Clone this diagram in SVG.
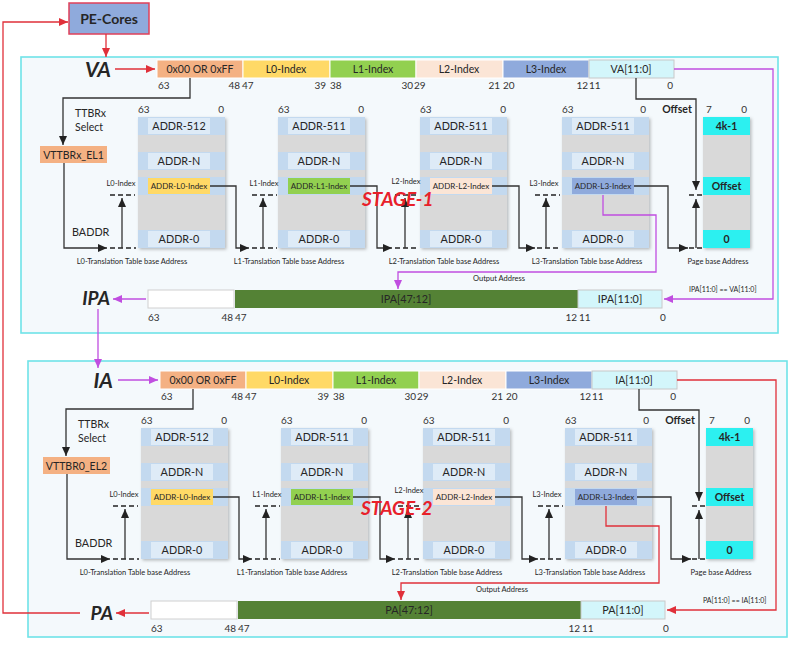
<svg xmlns="http://www.w3.org/2000/svg" width="792" height="646" viewBox="0 0 792 646">
<style>
.t{font-family:Lato,"Open Sans","Liberation Sans",sans-serif;fill:#262626}
.c{text-anchor:middle}
.e{text-anchor:end}
.f10{font-size:10.5px}
.f11{font-size:10.8px}
.bits{font-size:10px;fill:#333}
.sm{font-size:7.5px}
.xs{font-size:7px}
.ic{font-size:8px}
.big{font-size:21px;font-weight:bold;font-style:italic}
.mid{font-size:19px;font-weight:bold;font-style:italic}
.stage{font-size:19px;font-weight:bold;font-style:italic;fill:#e8202a}
.b{font-weight:bold}
.ln{fill:none;stroke:#333;stroke-width:1.3}
.dash{fill:none;stroke:#222;stroke-width:1.3;stroke-dasharray:5 3}
.pur{fill:none;stroke:#c04ee0;stroke-width:1.3}
.red{fill:none;stroke:#e0303a;stroke-width:1.3}
.tg{fill:#d9d9d9}
.tb{fill:#c3d9ef}
.tc{fill:#deebf7}
.cy{fill:#2cf0f0}
.seg{stroke:#ffffff;stroke-width:1}
.box{fill:#f4f9fc;stroke:#6fe3e8;stroke-width:1.6}
</style>
<defs>
<marker id="ak" markerUnits="userSpaceOnUse" markerWidth="9" markerHeight="8" refX="9" refY="4" orient="auto"><path d="M0,0 L9,4 L0,8 z" fill="#222"/></marker>
<marker id="ap" markerUnits="userSpaceOnUse" markerWidth="9" markerHeight="8" refX="9" refY="4" orient="auto"><path d="M0,0 L9,4 L0,8 z" fill="#c04ee0"/></marker>
<marker id="ar" markerUnits="userSpaceOnUse" markerWidth="9" markerHeight="8" refX="9" refY="4" orient="auto"><path d="M0,0 L9,4 L0,8 z" fill="#e0303a"/></marker>
<filter id="sh" x="-10%" y="-10%" width="130%" height="130%"><feDropShadow dx="1.5" dy="1.5" stdDeviation="1.5" flood-color="#000" flood-opacity="0.25"/></filter>
</defs>
<rect width="792" height="646" fill="#ffffff"/>

<!-- containers -->
<rect id="stage1-box" class="box" x="21" y="57" width="757" height="276"/>
<rect id="stage2-box" class="box" x="28" y="361" width="759" height="276"/>

<!-- PE-Cores -->
<g id="pe-cores">
<rect x="69" y="3" width="80" height="31" fill="#8faadc" stroke="#e0405a" stroke-width="1.5"/>
<text class="t c b" x="109" y="24" font-size="14" fill="#1f2a44">PE-Cores</text>
</g>

<!-- global connectors -->
<g id="global-connectors">
<line class="red" x1="106" y1="34" x2="106" y2="57" marker-end="url(#ar)"/>
<polyline class="red" points="80,613 3,613 3,22 68,22" marker-end="url(#ar)"/>
<line class="pur" x1="98" y1="309" x2="98" y2="368" marker-end="url(#ap)"/>
</g>

<!-- STAGE 1 -->
<g id="stage1">
<g id="s1-va-label"><text class="t big e" x="111" y="77">VA</text></g>
<g id="s1-va-bar">
<rect class="seg" x="157" y="60" width="86" height="18" fill="#f4b183"/>
<rect class="seg" x="243" y="60" width="87" height="18" fill="#ffd966"/>
<rect class="seg" x="330" y="60" width="86" height="18" fill="#92d050"/>
<rect class="seg" x="416" y="60" width="87" height="18" fill="#fbe5d6"/>
<rect class="seg" x="503" y="60" width="86" height="18" fill="#8faadc"/>
<rect x="589" y="60" width="85" height="18" fill="#d3f6fb" stroke="#c8c8c8" stroke-width="1"/>
<text class="t c f10" x="200" y="73">0x00 OR 0xFF</text>
<text class="t c f10" x="286" y="73">L0-Index</text>
<text class="t c f10" x="373" y="73">L1-Index</text>
<text class="t c f10" x="459" y="73">L2-Index</text>
<text class="t c f10" x="546" y="73">L3-Index</text>
<text class="t c f10" x="631" y="73">VA[11:0]</text>
<text class="t bits" x="158" y="89">63</text>
<text class="t bits e" x="240" y="89">48</text>
<text class="t bits" x="242" y="89">47</text>
<text class="t bits e" x="326" y="89">39</text>
<text class="t bits" x="330" y="89">38</text>
<text class="t bits e" x="413" y="89">30</text>
<text class="t bits" x="414" y="89">29</text>
<text class="t bits e" x="500" y="89">21</text>
<text class="t bits" x="503" y="89">20</text>
<text class="t bits e" x="588" y="89">12</text>
<text class="t bits" x="589" y="89">11</text>
<text class="t bits e" x="673" y="89">0</text>
</g>
<g id="s1-ttbr-select"><text class="t f10" x="75" y="117">TTBRx</text><text class="t f10" x="75" y="131">Select</text></g>
<g id="s1-vttbr">
<rect x="40" y="146" width="67" height="17" fill="#f4b183"/>
<text class="t c f10" x="73.5" y="158.5">VTTBRx_EL1</text>
</g>
<g id="s1-baddr"><text class="t f11" x="72" y="236">BADDR</text></g>

<g id="s1-l0-table">
<rect class="tg" x="138" y="117" width="87" height="131" filter="url(#sh)"/>
<rect class="tb" x="138" y="117" width="87" height="18"/><rect class="tb" x="138" y="152" width="87" height="18"/><rect class="tb" x="138" y="177" width="87" height="18"/><rect class="tb" x="138" y="230" width="87" height="18"/>
<rect class="tc" x="148" y="118" width="62" height="16"/><rect class="tc" x="148" y="153" width="62" height="16"/><rect x="148" y="178" width="62" height="16" fill="#ffd966"/><rect class="tc" x="148" y="231" width="62" height="16"/>
<text class="t c f11" x="179" y="130">ADDR-512</text><text class="t c f11" x="179" y="165">ADDR-N</text><text class="t c ic" x="179" y="189">ADDR-L0-Index</text><text class="t c f11" x="179" y="243">ADDR-0</text>
<text class="t bits" x="138" y="113">63</text><text class="t bits e" x="224" y="113">0</text>
<text class="t c sm" x="121" y="186">L0-Index</text>
<text class="t c sm" x="132" y="264">L0-Translation Table base Address</text>
</g>
<g id="s1-l1-table">
<rect class="tg" x="278" y="117" width="87" height="131" filter="url(#sh)"/>
<rect class="tb" x="278" y="117" width="87" height="18"/><rect class="tb" x="278" y="152" width="87" height="18"/><rect class="tb" x="278" y="177" width="87" height="18"/><rect class="tb" x="278" y="230" width="87" height="18"/>
<rect class="tc" x="288" y="118" width="62" height="16"/><rect class="tc" x="288" y="153" width="62" height="16"/><rect x="288" y="178" width="62" height="16" fill="#92d050"/><rect class="tc" x="288" y="231" width="62" height="16"/>
<text class="t c f11" x="319" y="130">ADDR-511</text><text class="t c f11" x="319" y="165">ADDR-N</text><text class="t c ic" x="319" y="189">ADDR-L1-Index</text><text class="t c f11" x="319" y="243">ADDR-0</text>
<text class="t bits" x="278" y="113">63</text><text class="t bits e" x="364" y="113">0</text>
<text class="t c sm" x="264" y="186">L1-Index</text>
<text class="t c sm" x="289" y="264">L1-Translation Table base Address</text>
</g>
<g id="s1-l2-table">
<rect class="tg" x="420" y="117" width="87" height="131" filter="url(#sh)"/>
<rect class="tb" x="420" y="117" width="87" height="18"/><rect class="tb" x="420" y="152" width="87" height="18"/><rect class="tb" x="420" y="177" width="87" height="18"/><rect class="tb" x="420" y="230" width="87" height="18"/>
<rect class="tc" x="430" y="118" width="62" height="16"/><rect class="tc" x="430" y="153" width="62" height="16"/><rect x="430" y="178" width="62" height="16" fill="#fbe5d6"/><rect class="tc" x="430" y="231" width="62" height="16"/>
<text class="t c f11" x="461" y="130">ADDR-511</text><text class="t c f11" x="461" y="165">ADDR-N</text><text class="t c ic" x="461" y="189">ADDR-L2-Index</text><text class="t c f11" x="461" y="243">ADDR-0</text>
<text class="t bits" x="420" y="113">63</text><text class="t bits e" x="506" y="113">0</text>
<text class="t c sm" x="406" y="184">L2-Index</text>
<text class="t c sm" x="444" y="264">L2-Translation Table base Address</text>
</g>
<g id="s1-l3-table">
<rect class="tg" x="562" y="117" width="87" height="131" filter="url(#sh)"/>
<rect class="tb" x="562" y="117" width="87" height="18"/><rect class="tb" x="562" y="152" width="87" height="18"/><rect class="tb" x="562" y="177" width="87" height="18"/><rect class="tb" x="562" y="230" width="87" height="18"/>
<rect class="tc" x="572" y="118" width="62" height="16"/><rect class="tc" x="572" y="153" width="62" height="16"/><rect x="572" y="178" width="62" height="16" fill="#8faadc"/><rect class="tc" x="572" y="231" width="62" height="16"/>
<text class="t c f11" x="603" y="130">ADDR-511</text><text class="t c f11" x="603" y="165">ADDR-N</text><text class="t c ic" x="603" y="189">ADDR-L3-Index</text><text class="t c f11" x="603" y="243">ADDR-0</text>
<text class="t bits" x="562" y="113">63</text><text class="t bits e" x="646" y="113">0</text>
<text class="t c sm" x="544" y="186">L3-Index</text>
<text class="t c sm" x="587" y="264">L3-Translation Table base Address</text>
</g>
<g id="s1-page">
<rect class="tg" x="703" y="117" width="47" height="131" filter="url(#sh)"/>
<rect class="cy" x="703" y="117" width="47" height="18"/><rect class="cy" x="703" y="177" width="47" height="18"/><rect class="cy" x="703" y="230" width="47" height="18"/>
<text class="t c f10 b" x="726.5" y="130" fill="#1f3050">4k-1</text><text class="t c f10 b" x="726.5" y="190" fill="#1f3050">Offset</text><text class="t c f10 b" x="726.5" y="243" fill="#1f3050">0</text>
<text class="t bits" x="706" y="113">7</text><text class="t bits e" x="747" y="113">0</text>
<text class="t c f10 b" x="677" y="113">Offset</text>
<text class="t c sm" x="718" y="264">Page base Address</text>
</g>
<g id="s1-ipa-label"><text class="t mid e" x="110" y="305">IPA</text></g>
<g id="s1-ipa-bar">
<rect x="148" y="290" width="86" height="18" fill="#ffffff" stroke="#d0d0d0" stroke-width="1"/>
<rect x="235" y="290" width="343" height="18" fill="#548235"/>
<rect x="578" y="290" width="84" height="18" fill="#d3f6fb" stroke="#c8c8c8" stroke-width="1"/>
<text class="t c f11" x="406" y="303" fill="#1a1a1a">IPA[47:12]</text>
<text class="t c f11" x="620" y="303">IPA[11:0]</text>
<text class="t bits" x="148" y="321">63</text>
<text class="t bits e" x="233" y="321">48</text>
<text class="t bits" x="235" y="321">47</text>
<text class="t bits e" x="577" y="321">12</text>
<text class="t bits" x="579" y="321">11</text>
<text class="t bits" x="660" y="321">0</text>
</g>
<g id="s1-connectors">
<polyline class="ln" points="190,78 190,98 63,98 63,145" marker-end="url(#ak)"/>
<polyline class="ln" points="64,163 64,248 107,248" marker-end="url(#ak)"/>
<line class="dash" x1="110" y1="248" x2="136" y2="248"/>
<line class="ln" x1="122" y1="248" x2="122" y2="198" marker-end="url(#ak)"/>
<line class="dash" x1="110" y1="195" x2="135" y2="195"/>
<polyline class="ln" points="210,186 236,186 236,248 249,248" marker-end="url(#ak)"/>
<line class="dash" x1="252" y1="248" x2="277" y2="248"/>
<line class="ln" x1="263" y1="248" x2="263" y2="198" marker-end="url(#ak)"/>
<line class="dash" x1="252" y1="195" x2="277" y2="195"/>
<polyline class="ln" points="350,186 377,186 377,248 392,248" marker-end="url(#ak)"/>
<line class="dash" x1="395" y1="248" x2="419" y2="248"/>
<line class="ln" x1="405" y1="248" x2="405" y2="198" marker-end="url(#ak)"/>
<line class="dash" x1="395" y1="195" x2="419" y2="195"/>
<polyline class="ln" points="492,186 519,186 519,248 535,248" marker-end="url(#ak)"/>
<line class="dash" x1="537" y1="248" x2="561" y2="248"/>
<line class="ln" x1="546" y1="248" x2="546" y2="198" marker-end="url(#ak)"/>
<line class="dash" x1="535" y1="195" x2="560" y2="195"/>
<polyline class="ln" points="634,186 668,186 668,248 688,248" marker-end="url(#ak)"/>
<line class="dash" x1="689" y1="248" x2="703" y2="248"/>
<line class="ln" x1="696" y1="248" x2="696" y2="199" marker-end="url(#ak)"/>
<polyline class="ln" points="636,78 636,99 696,99 696,190" marker-end="url(#ak)"/>
<line class="dash" x1="689" y1="195" x2="703" y2="195"/>
<line class="red" x1="115" y1="69" x2="155" y2="69" marker-end="url(#ar)"/>
<polyline class="pur" points="674,69 773,69 773,299 664,299" marker-end="url(#ap)"/>
<polyline class="pur" points="603,195 603,215 656,215 656,272 398,272 398,289" marker-end="url(#ap)"/>
<line class="pur" x1="146" y1="299" x2="113" y2="299" marker-end="url(#ap)"/>
<text class="t sm" x="473" y="281" fill="#c04ee0">Output Address</text>
<text class="t xs" x="689" y="292" fill="#c04ee0">IPA[11:0] == VA[11:0]</text>
</g>
<g id="s1-stage-label"><text class="t stage" x="362" y="206">STAGE-1</text></g>
</g>

<!-- STAGE 2 -->
<g id="stage2" transform="translate(3,311)">
<g id="s2-ia-label"><text class="t big e" x="110" y="77">IA</text></g>
<g id="s2-ia-bar">
<rect class="seg" x="157" y="60" width="86" height="18" fill="#f4b183"/>
<rect class="seg" x="243" y="60" width="87" height="18" fill="#ffd966"/>
<rect class="seg" x="330" y="60" width="86" height="18" fill="#92d050"/>
<rect class="seg" x="416" y="60" width="87" height="18" fill="#fbe5d6"/>
<rect class="seg" x="503" y="60" width="86" height="18" fill="#8faadc"/>
<rect x="589" y="60" width="85" height="18" fill="#d3f6fb" stroke="#c8c8c8" stroke-width="1"/>
<text class="t c f10" x="200" y="73">0x00 OR 0xFF</text>
<text class="t c f10" x="286" y="73">L0-Index</text>
<text class="t c f10" x="373" y="73">L1-Index</text>
<text class="t c f10" x="459" y="73">L2-Index</text>
<text class="t c f10" x="546" y="73">L3-Index</text>
<text class="t c f10" x="631" y="73">IA[11:0]</text>
<text class="t bits" x="158" y="89">63</text>
<text class="t bits e" x="240" y="89">48</text>
<text class="t bits" x="242" y="89">47</text>
<text class="t bits e" x="326" y="89">39</text>
<text class="t bits" x="330" y="89">38</text>
<text class="t bits e" x="413" y="89">30</text>
<text class="t bits" x="414" y="89">29</text>
<text class="t bits e" x="500" y="89">21</text>
<text class="t bits" x="503" y="89">20</text>
<text class="t bits e" x="588" y="89">12</text>
<text class="t bits" x="589" y="89">11</text>
<text class="t bits e" x="673" y="89">0</text>
</g>
<g id="s2-ttbr-select"><text class="t f10" x="75" y="117">TTBRx</text><text class="t f10" x="75" y="131">Select</text></g>
<g id="s2-vttbr">
<rect x="40" y="146" width="67" height="17" fill="#f4b183"/>
<text class="t c f10" x="73.5" y="158.5">VTTBR0_EL2</text>
</g>
<g id="s2-baddr"><text class="t f11" x="72" y="236">BADDR</text></g>

<g id="s2-l0-table">
<rect class="tg" x="138" y="117" width="87" height="131" filter="url(#sh)"/>
<rect class="tb" x="138" y="117" width="87" height="18"/><rect class="tb" x="138" y="152" width="87" height="18"/><rect class="tb" x="138" y="177" width="87" height="18"/><rect class="tb" x="138" y="230" width="87" height="18"/>
<rect class="tc" x="148" y="118" width="62" height="16"/><rect class="tc" x="148" y="153" width="62" height="16"/><rect x="148" y="178" width="62" height="16" fill="#ffd966"/><rect class="tc" x="148" y="231" width="62" height="16"/>
<text class="t c f11" x="179" y="130">ADDR-512</text><text class="t c f11" x="179" y="165">ADDR-N</text><text class="t c ic" x="179" y="189">ADDR-L0-Index</text><text class="t c f11" x="179" y="243">ADDR-0</text>
<text class="t bits" x="138" y="113">63</text><text class="t bits e" x="224" y="113">0</text>
<text class="t c sm" x="121" y="186">L0-Index</text>
<text class="t c sm" x="132" y="264">L0-Translation Table base Address</text>
</g>
<g id="s2-l1-table">
<rect class="tg" x="278" y="117" width="87" height="131" filter="url(#sh)"/>
<rect class="tb" x="278" y="117" width="87" height="18"/><rect class="tb" x="278" y="152" width="87" height="18"/><rect class="tb" x="278" y="177" width="87" height="18"/><rect class="tb" x="278" y="230" width="87" height="18"/>
<rect class="tc" x="288" y="118" width="62" height="16"/><rect class="tc" x="288" y="153" width="62" height="16"/><rect x="288" y="178" width="62" height="16" fill="#92d050"/><rect class="tc" x="288" y="231" width="62" height="16"/>
<text class="t c f11" x="319" y="130">ADDR-511</text><text class="t c f11" x="319" y="165">ADDR-N</text><text class="t c ic" x="319" y="189">ADDR-L1-Index</text><text class="t c f11" x="319" y="243">ADDR-0</text>
<text class="t bits" x="278" y="113">63</text><text class="t bits e" x="364" y="113">0</text>
<text class="t c sm" x="264" y="186">L1-Index</text>
<text class="t c sm" x="289" y="264">L1-Translation Table base Address</text>
</g>
<g id="s2-l2-table">
<rect class="tg" x="420" y="117" width="87" height="131" filter="url(#sh)"/>
<rect class="tb" x="420" y="117" width="87" height="18"/><rect class="tb" x="420" y="152" width="87" height="18"/><rect class="tb" x="420" y="177" width="87" height="18"/><rect class="tb" x="420" y="230" width="87" height="18"/>
<rect class="tc" x="430" y="118" width="62" height="16"/><rect class="tc" x="430" y="153" width="62" height="16"/><rect x="430" y="178" width="62" height="16" fill="#fbe5d6"/><rect class="tc" x="430" y="231" width="62" height="16"/>
<text class="t c f11" x="461" y="130">ADDR-511</text><text class="t c f11" x="461" y="165">ADDR-N</text><text class="t c ic" x="461" y="189">ADDR-L2-Index</text><text class="t c f11" x="461" y="243">ADDR-0</text>
<text class="t bits" x="420" y="113">63</text><text class="t bits e" x="506" y="113">0</text>
<text class="t c sm" x="406" y="182">L2-Index</text>
<text class="t c sm" x="444" y="264">L2-Translation Table base Address</text>
</g>
<g id="s2-l3-table">
<rect class="tg" x="562" y="117" width="87" height="131" filter="url(#sh)"/>
<rect class="tb" x="562" y="117" width="87" height="18"/><rect class="tb" x="562" y="152" width="87" height="18"/><rect class="tb" x="562" y="177" width="87" height="18"/><rect class="tb" x="562" y="230" width="87" height="18"/>
<rect class="tc" x="572" y="118" width="62" height="16"/><rect class="tc" x="572" y="153" width="62" height="16"/><rect x="572" y="178" width="62" height="16" fill="#8faadc"/><rect class="tc" x="572" y="231" width="62" height="16"/>
<text class="t c f11" x="603" y="130">ADDR-511</text><text class="t c f11" x="603" y="165">ADDR-N</text><text class="t c ic" x="603" y="189">ADDR-L3-Index</text><text class="t c f11" x="603" y="243">ADDR-0</text>
<text class="t bits" x="562" y="113">63</text><text class="t bits e" x="646" y="113">0</text>
<text class="t c sm" x="544" y="186">L3-Index</text>
<text class="t c sm" x="587" y="264">L3-Translation Table base Address</text>
</g>
<g id="s2-page">
<rect class="tg" x="703" y="117" width="47" height="131" filter="url(#sh)"/>
<rect class="cy" x="703" y="117" width="47" height="18"/><rect class="cy" x="703" y="177" width="47" height="18"/><rect class="cy" x="703" y="230" width="47" height="18"/>
<text class="t c f10 b" x="726.5" y="130" fill="#1f3050">4k-1</text><text class="t c f10 b" x="726.5" y="190" fill="#1f3050">Offset</text><text class="t c f10 b" x="726.5" y="243" fill="#1f3050">0</text>
<text class="t bits" x="706" y="113">7</text><text class="t bits e" x="747" y="113">0</text>
<text class="t c f10 b" x="677" y="113">Offset</text>
<text class="t c sm" x="718" y="264">Page base Address</text>
</g>
<g id="s2-pa-label"><text class="t mid e" x="110" y="309">PA</text></g>
<g id="s2-pa-bar">
<rect x="148" y="290" width="86" height="18" fill="#ffffff" stroke="#d0d0d0" stroke-width="1"/>
<rect x="235" y="290" width="343" height="18" fill="#548235"/>
<rect x="578" y="290" width="84" height="18" fill="#d3f6fb" stroke="#c8c8c8" stroke-width="1"/>
<text class="t c f11" x="406" y="303" fill="#1a1a1a">PA[47:12]</text>
<text class="t c f11" x="620" y="303">PA[11:0]</text>
<text class="t bits" x="148" y="321">63</text>
<text class="t bits e" x="233" y="321">48</text>
<text class="t bits" x="235" y="321">47</text>
<text class="t bits e" x="577" y="321">12</text>
<text class="t bits" x="579" y="321">11</text>
<text class="t bits" x="660" y="321">0</text>
</g>
<g id="s2-connectors">
<polyline class="ln" points="190,78 190,98 63,98 63,145" marker-end="url(#ak)"/>
<polyline class="ln" points="64,163 64,248 107,248" marker-end="url(#ak)"/>
<line class="dash" x1="110" y1="248" x2="136" y2="248"/>
<line class="ln" x1="122" y1="248" x2="122" y2="198" marker-end="url(#ak)"/>
<line class="dash" x1="110" y1="195" x2="135" y2="195"/>
<polyline class="ln" points="210,186 236,186 236,248 249,248" marker-end="url(#ak)"/>
<line class="dash" x1="252" y1="248" x2="277" y2="248"/>
<line class="ln" x1="263" y1="248" x2="263" y2="198" marker-end="url(#ak)"/>
<line class="dash" x1="252" y1="195" x2="277" y2="195"/>
<polyline class="ln" points="350,186 377,186 377,248 392,248" marker-end="url(#ak)"/>
<line class="dash" x1="395" y1="248" x2="419" y2="248"/>
<line class="ln" x1="405" y1="248" x2="405" y2="198" marker-end="url(#ak)"/>
<line class="dash" x1="395" y1="195" x2="419" y2="195"/>
<polyline class="ln" points="492,186 519,186 519,248 535,248" marker-end="url(#ak)"/>
<line class="dash" x1="537" y1="248" x2="561" y2="248"/>
<line class="ln" x1="546" y1="248" x2="546" y2="198" marker-end="url(#ak)"/>
<line class="dash" x1="535" y1="195" x2="560" y2="195"/>
<polyline class="ln" points="634,186 668,186 668,248 688,248" marker-end="url(#ak)"/>
<line class="dash" x1="689" y1="248" x2="703" y2="248"/>
<line class="ln" x1="696" y1="248" x2="696" y2="199" marker-end="url(#ak)"/>
<polyline class="ln" points="636,78 636,99 696,99 696,190" marker-end="url(#ak)"/>
<line class="dash" x1="689" y1="195" x2="703" y2="195"/>
<line class="pur" x1="115" y1="69" x2="155" y2="69" marker-end="url(#ap)"/>
<polyline class="red" points="674,69 773,69 773,299 664,299" marker-end="url(#ar)"/>
<polyline class="red" points="603,195 603,215 656,215 656,272 398,272 398,289" marker-end="url(#ar)"/>
<line class="red" x1="146" y1="302" x2="113" y2="302" marker-end="url(#ar)"/>
<text class="t sm" x="473" y="281" fill="#e0303a">Output Address</text>
<text class="t xs" x="700" y="292" fill="#e0303a">PA[11:0] == IA[11:0]</text>
</g>
</g>
<g id="s2-stage-label"><text class="t stage" x="361" y="515">STAGE-2</text></g>
</svg>
